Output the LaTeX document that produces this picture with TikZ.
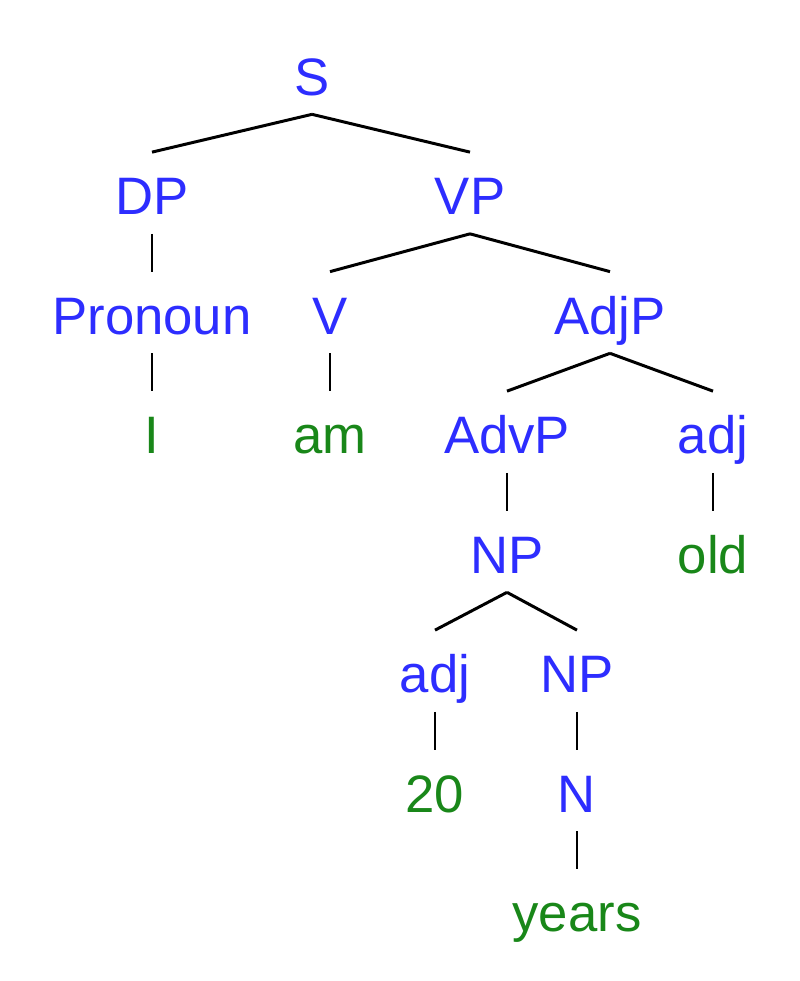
\documentclass[tikz,border=0pt]{standalone}
\usepackage{fontspec}
\setmainfont{Liberation Sans}
\usetikzlibrary{arrows,shapes}
\definecolor{catblue}{RGB}{45,45,255}
\definecolor{wordgreen}{RGB}{25,135,25}
\tikzstyle{catnode}=[inner sep=0pt,anchor=base,text height=35.3pt,text depth=10.8pt,font=\fontsize{30}{36}\selectfont,text=catblue]
\tikzstyle{wordnode}=[catnode,text=wordgreen]
\tikzstyle{edge} = [draw,line width=1.7pt]

\begin{document}
\begin{tikzpicture}[x=0.02cm,y=-0.02cm]
    \useasboundingbox (0,0) rectangle (800,981);
    % Draw the parse tree of "I am 20 years old"
    % First the category labels
    \foreach \pos/\name/\lbl in {{(312,95)/s/S}, {(152,214.5)/dp/DP}, {(470,214.5)/vp/VP},
                                 {(152,334)/pron/Pronoun}, {(330,334)/v/V}, {(610,334)/adjp/AdjP},
                                 {(507,453.5)/advp/AdvP}, {(713,453.5)/adja/adj}, {(507,573)/np/NP},
                                 {(435,692.5)/adjb/adj}, {(577,692.5)/npb/NP}, {(577,812)/n/N}}
        \node[catnode] (\name) at \pos {\lbl};
    % Then the words
    \foreach \pos/\name/\lbl in {{(152,453.5)/i/I}, {(330,453.5)/am/am}, {(713,573)/old/old},
                                 {(435,812)/twenty/20}, {(577,931.5)/years/years}}
        \node[wordnode] (\name) at \pos {\lbl};
    % Connect parents with children
    \foreach \source/\dest in {s/dp, s/vp, dp/pron, pron/i, vp/v, vp/adjp, v/am, adjp/advp,
                               adjp/adja, advp/np, adja/old, np/adjb, np/npb, adjb/twenty, npb/n, n/years}
        \path[edge] (\source.south) -- (\dest.north);
\end{tikzpicture}
\end{document}
